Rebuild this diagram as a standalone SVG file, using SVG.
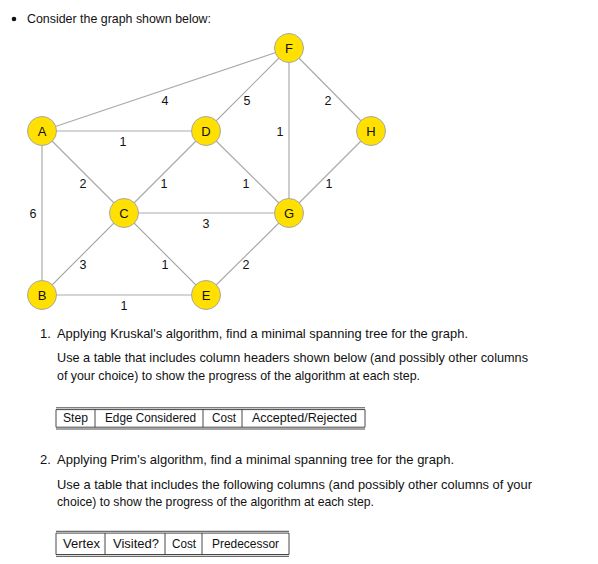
<svg xmlns="http://www.w3.org/2000/svg" width="598" height="564" viewBox="0 0 598 564">
<style>
text{font-family:"Liberation Sans",Arial,sans-serif;fill:#111}
.t{font-size:13px}
.w{font-size:12.5px;text-anchor:middle}
.n circle{fill:#FFE000;stroke:#a8a8a8;stroke-width:1}
.n text{font-size:13px;text-anchor:middle}
#edges line{stroke:#ababab;stroke-width:1.2}
.tb line{stroke:#333;stroke-width:0.9}
</style>
<rect width="598" height="564" fill="#fff"/>
<circle cx="14" cy="19" r="2.3" fill="#111"/>
<text class="t" x="27" y="23" textLength="184" lengthAdjust="spacingAndGlyphs">Consider the graph shown below:</text>
<g id="edges">
<line x1="42" y1="131" x2="289" y2="48"/>
<line x1="42" y1="131" x2="206" y2="131"/>
<line x1="42" y1="131" x2="42" y2="295"/>
<line x1="42" y1="131" x2="124" y2="213"/>
<line x1="206" y1="131" x2="289" y2="48"/>
<line x1="206" y1="131" x2="124" y2="213"/>
<line x1="206" y1="131" x2="289" y2="213"/>
<line x1="289" y1="48" x2="289" y2="213"/>
<line x1="289" y1="48" x2="371" y2="131"/>
<line x1="371" y1="131" x2="289" y2="213"/>
<line x1="124" y1="213" x2="289" y2="213"/>
<line x1="124" y1="213" x2="42" y2="295"/>
<line x1="124" y1="213" x2="206" y2="295"/>
<line x1="289" y1="213" x2="206" y2="295"/>
<line x1="42" y1="295" x2="206" y2="295"/>
<text class="w" x="165" y="104.5">4</text>
<text class="w" x="247" y="104.5">5</text>
<text class="w" x="123" y="145.5">1</text>
<text class="w" x="280" y="135.5">1</text>
<text class="w" x="328" y="104.5">2</text>
<text class="w" x="83" y="187.5">2</text>
<text class="w" x="164" y="187.5">1</text>
<text class="w" x="246" y="187.5">1</text>
<text class="w" x="329" y="187.5">1</text>
<text class="w" x="33" y="217.5">6</text>
<text class="w" x="206" y="227.5">3</text>
<text class="w" x="83" y="268.5">3</text>
<text class="w" x="165" y="268.5">1</text>
<text class="w" x="246" y="268.5">2</text>
<text class="w" x="124" y="309.5">1</text>
</g>
<g id="A" class="n"><circle cx="42" cy="131" r="14.5"/><text x="42" y="135.7">A</text></g>
<g id="D" class="n"><circle cx="206" cy="131" r="14.5"/><text x="206" y="135.7">D</text></g>
<g id="F" class="n"><circle cx="289" cy="48" r="14.5"/><text x="289" y="52.7">F</text></g>
<g id="H" class="n"><circle cx="371" cy="131" r="14.5"/><text x="371" y="135.7">H</text></g>
<g id="C" class="n"><circle cx="124" cy="213" r="14.5"/><text x="124" y="217.7">C</text></g>
<g id="G" class="n"><circle cx="289" cy="213" r="14.5"/><text x="289" y="217.7">G</text></g>
<g id="B" class="n"><circle cx="42" cy="295" r="14.5"/><text x="42" y="299.7">B</text></g>
<g id="E" class="n"><circle cx="206" cy="295" r="14.5"/><text x="206" y="299.7">E</text></g>

<text class="t" x="40" y="338">1.</text>
<text class="t" x="57" y="338" textLength="411" lengthAdjust="spacingAndGlyphs">Applying Kruskal's algorithm, find a minimal spanning tree for the graph.</text>
<text class="t" x="57" y="362" textLength="471" lengthAdjust="spacingAndGlyphs">Use a table that includes column headers shown below (and possibly other columns</text>
<text class="t" x="57" y="380" textLength="363" lengthAdjust="spacingAndGlyphs">of your choice) to show the progress of the algorithm at each step.</text>

<g class="tb">
<line x1="56" y1="407.8" x2="365" y2="407.8"/>
<line x1="56" y1="409.6" x2="365" y2="409.6"/>
<line x1="56" y1="427.2" x2="365" y2="427.2"/>
<line x1="56" y1="429" x2="365" y2="429"/>
<line x1="56" y1="409.6" x2="56" y2="427.2"/>
<line x1="95" y1="409.6" x2="95" y2="427.2"/>
<line x1="203" y1="409.6" x2="203" y2="427.2"/>
<line x1="242" y1="409.6" x2="242" y2="427.2"/>
<line x1="365" y1="409.6" x2="365" y2="427.2"/>
</g>
<text class="t" x="63" y="422" textLength="25" lengthAdjust="spacingAndGlyphs">Step</text>
<text class="t" x="105" y="422" textLength="91" lengthAdjust="spacingAndGlyphs">Edge Considered</text>
<text class="t" x="212" y="422" textLength="24" lengthAdjust="spacingAndGlyphs">Cost</text>
<text class="t" x="252" y="422" textLength="105" lengthAdjust="spacingAndGlyphs">Accepted/Rejected</text>

<text class="t" x="40" y="464">2.</text>
<text class="t" x="57" y="464" textLength="397" lengthAdjust="spacingAndGlyphs">Applying Prim's algorithm, find a minimal spanning tree for the graph.</text>
<text class="t" x="57" y="489" textLength="475" lengthAdjust="spacingAndGlyphs">Use a table that includes the following columns (and possibly other columns of your</text>
<text class="t" x="57" y="506" textLength="317" lengthAdjust="spacingAndGlyphs">choice) to show the progress of the algorithm at each step.</text>

<g class="tb">
<line x1="56" y1="531.3" x2="289" y2="531.3"/>
<line x1="56" y1="533.1" x2="289" y2="533.1"/>
<line x1="56" y1="554.5" x2="289" y2="554.5"/>
<line x1="56" y1="556.3" x2="289" y2="556.3"/>
<line x1="56" y1="533.1" x2="56" y2="554.5"/>
<line x1="105" y1="533.1" x2="105" y2="554.5"/>
<line x1="165" y1="533.1" x2="165" y2="554.5"/>
<line x1="202" y1="533.1" x2="202" y2="554.5"/>
<line x1="289" y1="533.1" x2="289" y2="554.5"/>
</g>
<text class="t" x="63" y="547.5" textLength="37" lengthAdjust="spacingAndGlyphs">Vertex</text>
<text class="t" x="113" y="547.5" textLength="46" lengthAdjust="spacingAndGlyphs">Visited?</text>
<text class="t" x="172" y="547.5" textLength="24" lengthAdjust="spacingAndGlyphs">Cost</text>
<text class="t" x="212" y="547.5" textLength="67" lengthAdjust="spacingAndGlyphs">Predecessor</text>
</svg>
